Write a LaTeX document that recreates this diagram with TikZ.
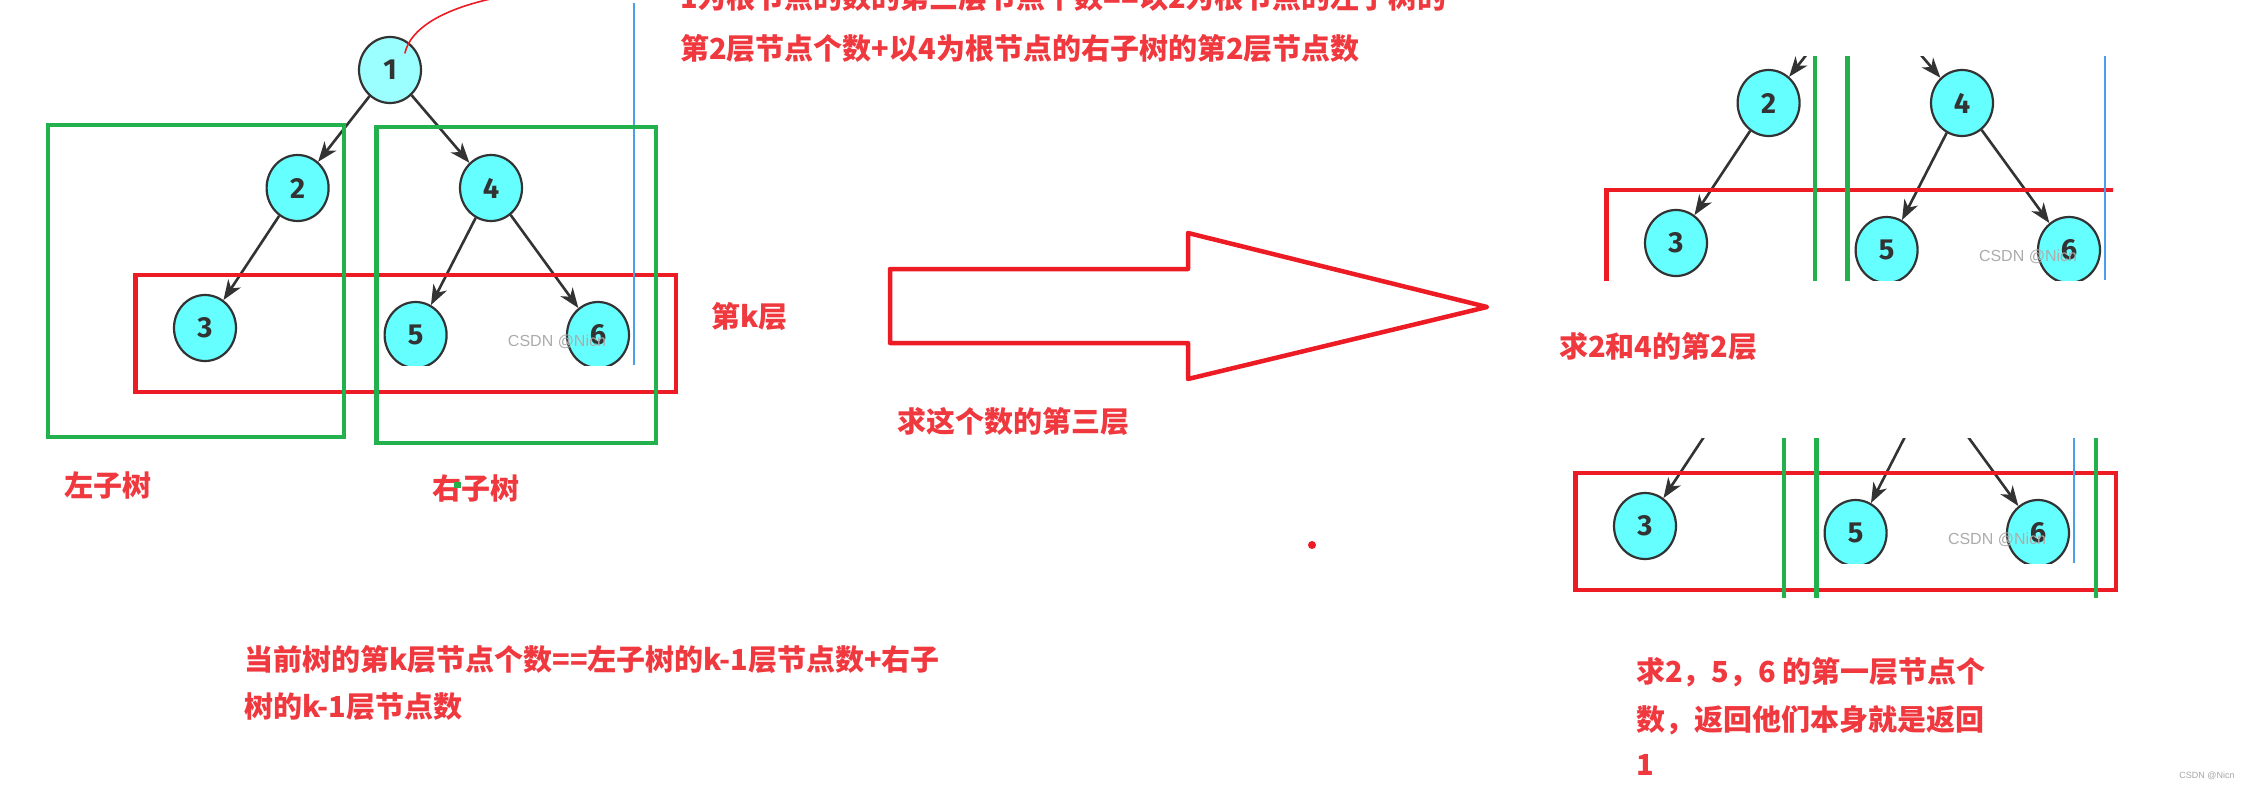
\documentclass[tikz,border=0pt]{standalone}
\usepackage{fontspec}
\newfontfamily\cjk{Noto Sans CJK SC}
\newfontfamily\numfont{Fira Sans}
\newfontfamily\wmfont{Liberation Sans}
\usetikzlibrary{shapes.geometric,arrows.meta}
\definecolor{shapered}{HTML}{ED1C24}
\definecolor{txtred}{HTML}{F0383F}
\definecolor{pgreen}{HTML}{22B14C}
\definecolor{pblue}{HTML}{4A9EEA}
\definecolor{nodecyan}{HTML}{66FFFF}
\definecolor{nodelight}{HTML}{9CFFFF}
\definecolor{inkgray}{HTML}{333333}
\tikzset{
  tnode/.style={ellipse, draw=inkgray, line width=2.2pt, fill=nodecyan, minimum width=62pt, minimum height=66pt, inner sep=0pt, font=\numfont\bfseries\fontsize{29}{29}\selectfont, text=inkgray},
  edge/.style={draw=inkgray, line width=2.6pt, -{Stealth[length=20pt,width=15pt,inset=6pt]}},
  redbox/.style={draw=shapered, line width=4.5pt},
  greenbox/.style={draw=pgreen, line width=4.5pt},
  blueline/.style={draw=pblue, line width=2.5pt},
  ctext/.style={font=\cjk\bfseries\fontsize{29}{35}\selectfont, text=txtred, inner sep=0pt, anchor=base west},
  wmark/.style={font=\wmfont\fontsize{16}{16}\selectfont, text=gray!65, inner sep=0pt},
  pics/treescene/.style={code={
    \begin{scope}
      \clip (0,3) rectangle (660,365);
      \node[tnode,fill=nodelight] (-n1) at (390,70) {1};
      \node[tnode] (-n2) at (297.6,188) {2};
      \node[tnode] (-n4) at (491,188) {4};
      \node[tnode] (-n3) at (205,328) {3};
      \node[tnode] (-n5) at (415.6,335) {5};
      \node[tnode] (-n6) at (598,335) {6};
      \draw[edge] (-n1) -- (-n2);
      \draw[edge] (-n1) -- (-n4);
      \draw[edge] (-n2) -- (-n3);
      \draw[edge] (-n4) -- (-n5);
      \draw[edge] (-n4) -- (-n6);
      \node[wmark] (-wm) at (557,342) {CSDN @Nicn};
    \end{scope}
    \draw[redbox] (135.5,275) rectangle (676,392);
    \draw[blueline] (634,3) -- (634,365);
    \draw[greenbox] (48,125) rectangle (344,437);
    \draw[greenbox] (376.5,127) rectangle (656,443);
  }}
}
\begin{document}
\begin{tikzpicture}[x=1pt,y=-1pt]
\useasboundingbox (0,0) rectangle (2250,789);
\fill[white] (0,0) rectangle (2250,789);

% left scene
\pic (L) at (0,0) {treescene};
\draw[draw=shapered, line width=1.6pt, line cap=round] (405,53) .. controls (410,30) and (440,8) .. (505,-4);

% right top crop
\begin{scope}
  \clip (1590,57) rectangle (2113,280);
  \pic (RT) at (1471,-85) {treescene};
\end{scope}

% right bottom crop
\begin{scope}
  \clip (1560,438) rectangle (2125,597);
  \pic (RB) at (1440,198) {treescene};
\end{scope}

% big hollow arrow
\draw[draw=shapered, line width=4.5pt, line join=round]
  (890,269) -- (1188,269) -- (1188,233) -- (1487,307) -- (1188,379) -- (1188,343) -- (890,343) -- cycle;

% texts
\node[ctext] (t1) at (680,9) {1为根节点的数的第三层节点个数==以2为根节点的左子树的};
\node[ctext] (t2) at (680,60) {第2层节点个数+以4为根节点的右子树的第2层节点数};
\node[ctext] (tk) at (711,327) {第k层};
\node[ctext] (tq) at (897,432) {求这个数的第三层};
\node[ctext] (t24) at (1559,357) {求2和4的第2层};
\node[ctext] (tl) at (64,496) {左子树};
\node[ctext] (tr) at (432,499) {右子树};
\fill[pgreen] (454,482) rectangle (461,488);
\node[ctext] (b1) at (244,670) {当前树的第k层节点个数==左子树的k-1层节点数+右子};
\node[ctext] (b2) at (244,717) {树的k-1层节点数};
\node[ctext] (r1) at (1636,682) {求2，5，6 的第一层节点个};
\node[ctext] (r2) at (1636,730) {数，返回他们本身就是返回};
\node[ctext] (r3) at (1636,775) {1};

% red dot
\fill[shapered] (1312,545) circle (4);

% bottom-right watermark
\node[font=\wmfont\fontsize{9}{9}\selectfont, text=gray!70, inner sep=0pt] (wm2) at (2207,776) {CSDN @Nicn};
\end{tikzpicture}
\end{document}
